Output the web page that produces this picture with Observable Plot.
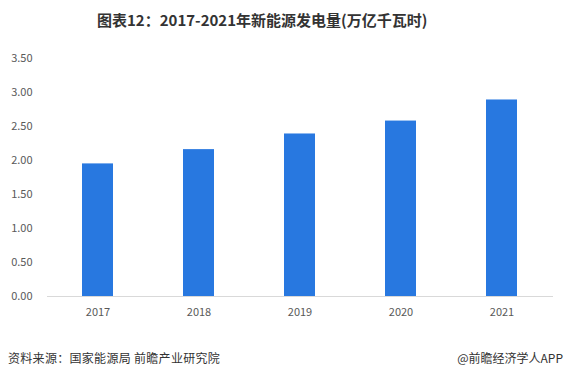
<!DOCTYPE html>
<html>
<head>
<meta charset="utf-8">
<script src="https://cdn.jsdelivr.net/npm/d3@7"></script>
<script src="https://cdn.jsdelivr.net/npm/@observablehq/plot@0.6"></script>
<style>
  html, body { margin: 0; padding: 0; background: #fff; }
  #wrap { position: relative; width: 566px; height: 378px; overflow: hidden; font-family: "Noto Sans CJK SC", "Noto Sans", sans-serif; }
  #title { position: absolute; top: 9px; left: 97px; font-size: 15px; font-weight: bold; color: #333; white-space: nowrap; line-height: 22px; }
  #chart { position: absolute; top: 40px; left: 0; }
  #src { position: absolute; top: 349px; left: 8px; font-size: 12px; color: #333; line-height: 18px; letter-spacing: 0.3px; white-space: nowrap; }
  #app { position: absolute; top: 349px; right: 3px; font-size: 12px; color: #333; line-height: 18px; white-space: nowrap; }
</style>
</head>
<body>
<div id="wrap">
  <div id="title">图表12：2017-2021年新能源发电量(万亿千瓦时)</div>
  <div id="chart"></div>
  <div id="src">资料来源：国家能源局 前瞻产业研究院</div>
  <div id="app">@前瞻经济学人APP</div>
</div>
<script>
const years = ["2017", "2018", "2019", "2020", "2021"];
const values = [1.95, 2.16, 2.39, 2.58, 2.89];
const yTicks = [0, 0.5, 1, 1.5, 2, 2.5, 3, 3.5];

const data = years.map((y, i) => ({year: y, value: values[i]}));

const plot = Plot.plot({
  width: 566,
  height: 300,
  marginLeft: 47,
  marginRight: 13,
  marginTop: 18,
  marginBottom: 44,
  style: {fontFamily: "'Noto Sans CJK SC', 'Noto Sans', sans-serif", fontSize: "11px", color: "#595959", background: "transparent"},
  x: {domain: years, paddingInner: 0.69, paddingOuter: 0.345, label: null},
  y: {domain: [0, 3.5], label: null},
  marks: [
    Plot.barY(data, {x: "year", y: "value", fill: "#2878e0"}),
    Plot.ruleY([0], {stroke: "#d9d9d9", strokeWidth: 1}),
    Plot.axisX({tickSize: 0, tickPadding: 12, fill: "#595959"}),
    Plot.axisY({ticks: yTicks, tickSize: 0, tickPadding: 15, tickFormat: d3.format(".2f"), fill: "#595959"})
  ]
});
document.getElementById("chart").appendChild(plot);
</script>
</body>
</html>
